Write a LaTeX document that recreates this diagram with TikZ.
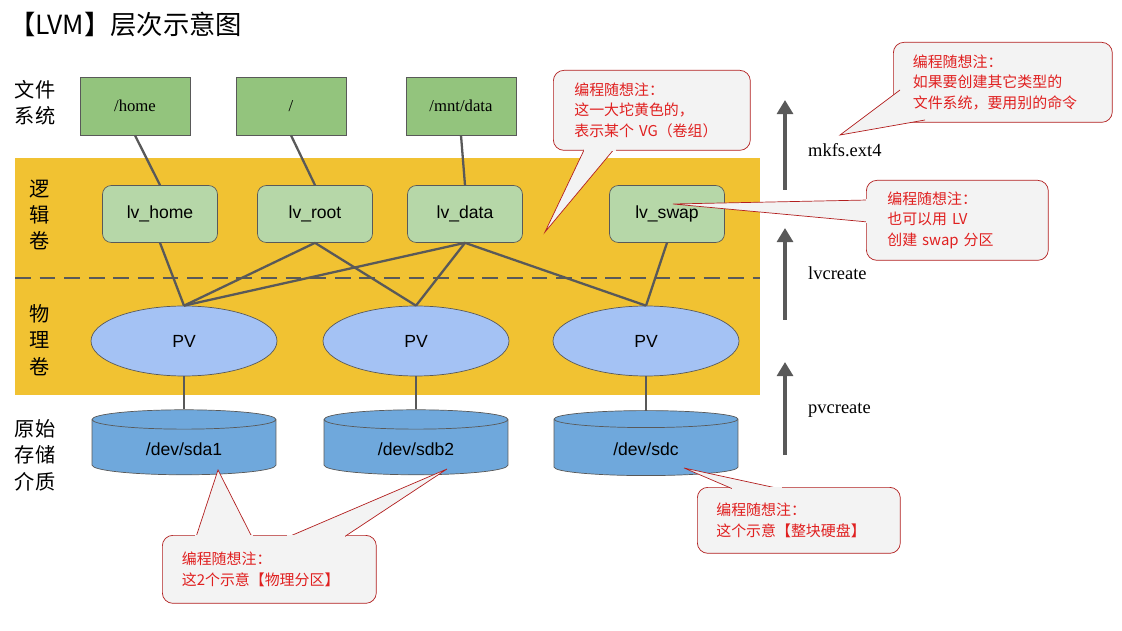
\documentclass[tikz,border=0pt]{standalone}
\usepackage{fontspec}
\setmainfont{Liberation Sans}
\newfontfamily\cjk{Noto Sans CJK SC}
\newfontfamily\serif{Liberation Serif}
\usetikzlibrary{shapes.geometric,arrows.meta}
\definecolor{vgyellow}{HTML}{F1C232}
\definecolor{fsgreen}{HTML}{93C47D}
\definecolor{lvgreen}{HTML}{B6D7A8}
\definecolor{pvblue}{HTML}{A4C2F4}
\definecolor{diskblue}{HTML}{6FA8DC}
\definecolor{edge}{HTML}{595959}
\definecolor{noteline}{HTML}{B21F1F}
\definecolor{notefill}{HTML}{F3F3F3}
\definecolor{notetext}{HTML}{E02020}
\begin{document}
\begin{tikzpicture}[x=0.02cm,y=-0.02cm,
  fs/.style={rectangle,draw=edge,fill=fsgreen,minimum width=2.2cm,minimum height=1.16cm,font=\serif\fontsize{9.5}{11}\selectfont},
  lv/.style={rectangle,rounded corners=5pt,draw=edge,fill=lvgreen,minimum width=2.3cm,minimum height=1.14cm,font=\fontsize{10}{12}\selectfont},
  pv/.style={ellipse,draw=edge,fill=pvblue,minimum width=3.72cm,minimum height=1.4cm,font=\fontsize{10}{12}\selectfont},
  disk/.style={cylinder,shape border rotate=90,aspect=0.22,draw=edge,fill=diskblue,minimum width=3.68cm,minimum height=1.3cm,font=\fontsize{10}{12}\selectfont},
  link/.style={edge,line width=1.3pt},
  side/.style={font=\cjk\fontsize{11.5}{15}\selectfont,align=center},
  cmd/.style={font=\serif\fontsize{10.5}{12}\selectfont,anchor=west},
  stage/.style={edge,line width=2.2pt,-{Triangle[length=8pt,width=9pt]}},
  note/.style={rectangle,rounded corners=6pt,draw=noteline,fill=notefill,align=left,text=notetext,font=\cjk\fontsize{8.5}{11.5}\selectfont,inner sep=0pt,anchor=north west},
  tip/.style={draw=noteline,fill=notefill,line join=miter}]
\useasboundingbox (0,0) rectangle (1122,631);
\node[anchor=west,font=\cjk\fontsize{15}{17}\selectfont] (title) at (3,24) {【LVM】层次示意图};
% volume group
\fill[vgyellow] (15,158) rectangle (760,395);
\draw[edge,line width=1.6pt,dash pattern=on 9pt off 5pt] (15,278) -- (760,278);
% side labels
\node[side] (l1) at (35,103) {文件\\系统};
\node[side] (l2) at (40,215) {逻\\辑\\卷};
\node[side] (l3) at (40,340) {物\\理\\卷};
\node[side] (l4) at (35,455) {原始\\存储\\介质};
% file systems
\node[fs] (home) at (135,106) {/home};
\node[fs] (root) at (291,106) {/};
\node[fs] (data) at (461,106) {/mnt/data};
% logical volumes
\node[lv] (lvhome) at (160,214) {lv\_home};
\node[lv] (lvroot) at (315,214) {lv\_root};
\node[lv] (lvdata) at (465,214) {lv\_data};
\node[lv] (lvswap) at (667,214) {lv\_swap};
% physical volumes
\node[pv] (pv1) at (184,341) {PV};
\node[pv] (pv2) at (416,341) {PV};
\node[pv] (pv3) at (646,341) {PV};
% disks
\node[disk] (sda) at (184,449) {/dev/sda1};
\node[disk] (sdb) at (416,449) {/dev/sdb2};
\node[disk] (sdc) at (646,449) {/dev/sdc};
% connectors
\draw[link] (home.south) -- (lvhome.north);
\draw[link] (root.south) -- (lvroot.north);
\draw[link] (data.south) -- (lvdata.north);
\draw[link] (lvhome.south) -- (pv1.north);
\draw[link] (lvroot.south) -- (pv1.north);
\draw[link] (lvroot.south) -- (pv2.north);
\draw[link] (lvdata.south) -- (pv1.north);
\draw[link] (lvdata.south) -- (pv2.north);
\draw[link] (lvdata.south) -- (pv3.north);
\draw[link] (lvswap.south) -- (pv3.north);
\draw[link] (pv1.south) -- (sda.top);
\draw[link] (pv2.south) -- (sdb.top);
\draw[link] (pv3.south) -- (sdc.top);
% commands
\coordinate (a1) at (785,455); \coordinate (b1) at (785,362);
\coordinate (a2) at (785,320); \coordinate (b2) at (785,228);
\coordinate (a3) at (785,190); \coordinate (b3) at (785,100);
\draw[stage] (a1) -- (b1);
\draw[stage] (a2) -- (b2);
\draw[stage] (a3) -- (b3);
\node[cmd] (pvc) at (802,410) {pvcreate};
\node[cmd] (lvc) at (802,273) {lvcreate};
\node[cmd] (mkfs) at (802,150) {mkfs.ext4};
% notes
\node[note,minimum width=3.94cm,minimum height=1.6cm,text width=3.6cm] (n1) at (553,70) {\hspace*{0.25cm}编程随想注：\\\hspace*{0.25cm}这一大坨黄色的，\\\hspace*{0.25cm}表示某个 VG（卷组）};
\coordinate (t1) at (545,232);
\filldraw[tip] (585,148) -- (t1) -- (615,148);
\fill[notefill] (584,146) rectangle (616,151);
\node[note,minimum width=4.38cm,minimum height=1.6cm,text width=4.1cm] (n2) at (893,42) {\hspace*{0.25cm}编程随想注：\\\hspace*{0.25cm}如果要创建其它类型的\\\hspace*{0.25cm}文件系统，要用别的命令};
\coordinate (t2) at (840,135);
\filldraw[tip] (900,90) -- (t2) -- (925,120);
\node[note,minimum width=3.64cm,minimum height=1.6cm,text width=3.3cm] (n3) at (866,180) {\hspace*{0.25cm}编程随想注：\\\hspace*{0.25cm}也可以用 LV\\\hspace*{0.25cm}创建 swap 分区};
\coordinate (t3) at (673,204);
\filldraw[tip] (868,200) -- (t3) -- (868,222);
\fill[notefill] (866,199) rectangle (872,223);
\node[note,minimum width=4.06cm,minimum height=1.32cm,text width=3.8cm] (n4) at (697,487) {\hspace*{0.25cm}编程随想注：\\\hspace*{0.25cm}这个示意【整块硬盘】};
\coordinate (t4) at (684,468);
\filldraw[tip] (733,489) -- (t4) -- (781,489);
\fill[notefill] (732,487) rectangle (782,492);
\node[note,minimum width=4.28cm,minimum height=1.36cm,text width=4.0cm] (n5) at (162,535) {\hspace*{0.25cm}编程随想注：\\\hspace*{0.25cm}这2个示意【物理分区】};
\coordinate (t5) at (218,470);
\coordinate (t6) at (447,469);
\filldraw[tip] (196,537) -- (t5) -- (252,537);
\filldraw[tip] (288,537) -- (t6) -- (344,537);
\fill[notefill] (195,535) rectangle (253,540);
\fill[notefill] (287,535) rectangle (345,540);
\end{tikzpicture}
\end{document}
